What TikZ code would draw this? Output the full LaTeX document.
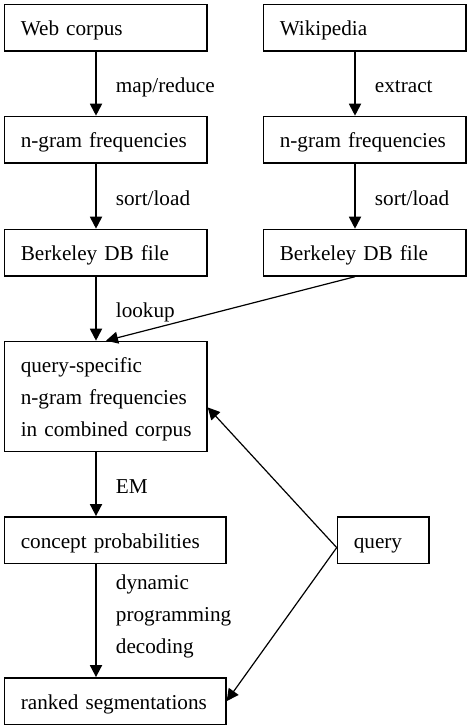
\documentclass[tikz,border=0pt]{standalone}
\usepackage{fontspec}
\setmainfont{Liberation Serif}
\usepackage{tikz}
\usetikzlibrary{positioning,arrows.meta}

\begin{document}
\begin{tikzpicture}[>={Triangle[length=6pt,width=6pt]},line width=0.9pt,
    font=\fontsize{10.6}{16}\selectfont]
    \tikzset{box/.style={draw,rectangle,line width=0.7pt,inner xsep=8.2pt,inner ysep=0pt,
        text width=84.9pt,align=left,minimum height=23.3pt,text height=8.2pt,text depth=0pt},
      wide/.style={box,text width=94.4pt},
      lbl/.style={inner sep=0pt,anchor=base west,xshift=9.5pt,yshift=-4.5pt,align=left},
      thin/.style={line width=0.6pt}}
    \useasboundingbox (0,0) rectangle (235pt,-364pt);
    \coordinate (lx) at (48pt,0);
    \coordinate (lxx) at (53pt,0);
    \coordinate (rx) at (177.5pt,0);
    \node[box,anchor=north west] (web) at (1.85pt,-1.85pt) {Web corpus};
    \node[box] (wiki) [right=27.5pt of web] {Wikipedia};
    \node[box] (ngram1) [below=32pt of web.south west,anchor=north west] {n-gram frequencies};
    \node[box] (ngram2) [below=32pt of wiki] {n-gram frequencies};
    \node[box] (berk1) [below=32.5pt of ngram1.south west,anchor=north west] {Berkeley DB file};
    \node[box] (berk2) [below=32.5pt of ngram2] {Berkeley DB file};
    \node[box,minimum height=55pt,text depth=32pt] (qspec) [below=32pt of berk1.south west,anchor=north west]
      {query-specific\\n-gram frequencies\\\mbox{in combined corpus}};
    \node[wide] (concept) [below=32pt of qspec.south west,anchor=north west] {concept probabilities};
    \node[wide] (ranked) [below=56.5pt of concept.south west,anchor=north west] {ranked segmentations};
    \node[box,text width=29.4pt] (query) [right=55pt of concept] {query};
    \coordinate (qin) at ([yshift=-3.75pt]query.west);
    \path[->]
    (web.south -| lx) edge node[lbl] {map/reduce} (ngram1.north -| lx)
    (ngram1.south -| lx) edge node[lbl] {sort/load} (berk1.north -| lx)
    (berk1.south -| lx) edge node[lbl] {lookup} (qspec.north -| lx)
    (qspec.south -| lx) edge node[lbl] {EM} (concept.north -| lx)
    (concept.south -| lx) edge node[lbl,anchor=west,yshift=6.5pt] {dynamic\\programming\\decoding} (ranked.north -| lx)
    (wiki.south -| rx) edge node[lbl] {extract} (ngram2.north -| rx)
    (ngram2.south -| rx) edge node[lbl] {sort/load} (berk2.north -| rx)
    (berk2.south -| rx) edge[thin] (qspec.north -| lxx)
    (qin) edge[thin] ([yshift=-5.5pt]qspec.east)
    (qin) edge[thin] (ranked.east);
\end{tikzpicture}
\end{document}
